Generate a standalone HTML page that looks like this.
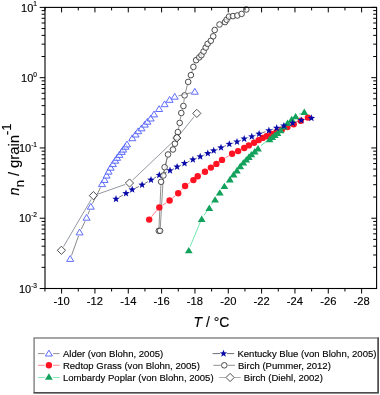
<!DOCTYPE html>
<html><head><meta charset="utf-8"><title>Ice nucleation chart</title>
<style>html,body{margin:0;padding:0;background:#fff}svg{display:block}</style></head>
<body>
<svg width="380" height="395" viewBox="0 0 380 395" font-family="'Liberation Sans', Arial, sans-serif" stroke-linejoin="miter">
<style>text{stroke:#000;stroke-width:0.14px;paint-order:stroke}</style>
<rect width="380" height="395" fill="#fff"/>
<path d="M71.5 255.5L78.5 236.0M81.3 229.2L85.1 221.1M88.0 214.3L89.6 210.3M92.5 203.5L100.5 187.5M129.5 141.7L130.0 141.1M178.4 95.9L191.3 92.7" stroke="#747474" stroke-width="0.85" fill="none"/>
<path d="M159.0 227.5L160.9 185.1M161.9 178.6L163.8 170.4M165.5 164.0L167.1 157.7M170.3 152.1L170.6 151.9M178.5 128.9L179.0 126.1M180.2 119.6L180.8 116.3M182.2 109.8L182.5 109.2M183.8 102.7L184.2 98.7M185.5 92.2L187.3 85.1M189.4 78.8L189.7 78.2M191.9 71.9L192.4 70.1M194.6 63.8L194.9 63.3M216.9 27.5L217.3 27.0" stroke="#747474" stroke-width="0.8" fill="none"/>
<path d="M160.3 227.5L163.2 178.8M164.1 172.3L167.3 157.7M169.8 151.7L173.1 146.5M175.7 140.5L177.0 135.3" stroke="#747474" stroke-width="0.8" fill="none"/>
<path d="M63.6 246.5L91.2 199.4M97.6 194.2L125.3 184.4M132.7 180.0L173.7 141.0M179.7 134.6L194.0 116.8" stroke="#80858f" stroke-width="0.85" fill="none"/>
<path d="M151.6 216.7L156.9 210.3M162.5 205.3L166.4 202.6M172.5 198.1L175.3 195.7M180.8 190.5L182.5 188.8M188.2 183.8L190.3 182.3M200.9 174.3L201.8 173.7M225.3 157.9L228.8 155.8" stroke="#ff6a78" stroke-width="0.85" fill="none"/>
<path d="M190.2 246.4L200.3 222.0M203.9 215.4L207.1 210.7M211.5 204.5L212.9 202.3M217.2 196.0L217.7 195.4M222.0 189.1L222.2 188.8M226.8 182.8L227.5 181.9M261.0 145.6L266.6 141.2M299.0 114.2L300.9 113.3" stroke="#5fe3a3" stroke-width="0.9" fill="none"/>
<path d="M119.1 197.2L122.9 195.2M135.4 188.1L138.9 186.5M145.2 183.1L147.9 181.7M154.1 178.1L156.2 176.9M162.6 173.7L166.7 171.9M173.2 168.8L173.9 168.5M180.4 165.3L181.2 164.8M187.8 161.9L189.6 161.1M196.2 158.3L196.9 158.0M203.5 155.2L204.5 154.8M217.0 149.3L217.7 149.1M224.3 146.3L226.0 145.5M232.7 143.1L233.6 142.8M240.3 140.4L240.9 140.2M247.7 137.8L248.3 137.6M255.2 135.4L255.7 135.1M262.5 132.7L265.5 131.7M272.3 129.4L273.3 129.1M280.1 126.9L280.5 126.9M287.3 124.7L289.2 124.2M296.0 122.0L297.9 121.4M304.8 119.6L307.9 118.9" stroke="#4a4a55" stroke-width="0.75" fill="none"/>
<g fill="#ff1222"><circle cx="149.2" cy="219.6" r="3.2"/><circle cx="159.3" cy="207.4" r="3.2"/><circle cx="169.6" cy="200.5" r="3.2"/><circle cx="178.2" cy="193.3" r="3.2"/><circle cx="185.1" cy="186" r="3.2"/><circle cx="193.4" cy="180.1" r="3.2"/><circle cx="197.7" cy="176.3" r="3.2"/><circle cx="205" cy="171.7" r="3.2"/><circle cx="210.9" cy="167.6" r="3.2"/><circle cx="216.4" cy="163.9" r="3.2"/><circle cx="222" cy="159.9" r="3.2"/><circle cx="232.1" cy="153.8" r="3.2"/><circle cx="238.1" cy="151.1" r="3.2"/><circle cx="244.2" cy="148" r="3.2"/><circle cx="248.8" cy="145.4" r="3.2"/><circle cx="254.1" cy="142.8" r="3.2"/><circle cx="258.7" cy="140.1" r="3.2"/><circle cx="262.6" cy="137.9" r="3.2"/><circle cx="266.6" cy="136.2" r="3.2"/><circle cx="271.5" cy="134" r="3.2"/><circle cx="276.5" cy="132" r="3.2"/><circle cx="281.8" cy="129.8" r="3.2"/><circle cx="287.4" cy="127.1" r="3.2"/><circle cx="293.7" cy="124.2" r="3.2"/><circle cx="300.8" cy="120.8" r="3.2"/><circle cx="307.9" cy="117.6" r="3.2"/></g>
<path d="M184.9 253.3L192.7 253.3L188.8 246.9ZM197.8 221.9L205.6 221.9L201.7 215.5ZM205.4 211.0L213.2 211.0L209.3 204.6ZM211.2 202.6L219.0 202.6L215.1 196.2ZM215.9 195.6L223.7 195.6L219.8 189.2ZM220.5 189.1L228.3 189.1L224.4 182.7ZM226.0 182.4L233.8 182.4L229.9 176.0ZM229.7 177.5L237.5 177.5L233.6 171.1ZM233.0 173.4L240.8 173.4L236.9 167.0ZM236.3 169.2L244.1 169.2L240.2 162.8ZM239.4 165.6L247.2 165.6L243.3 159.2ZM242.3 162.6L250.1 162.6L246.2 156.2ZM244.9 160.0L252.7 160.0L248.8 153.6ZM247.5 157.3L255.3 157.3L251.4 150.9ZM250.8 154.4L258.6 154.4L254.7 148.0ZM254.1 151.4L261.9 151.4L258.0 145.0ZM265.7 142.2L273.5 142.2L269.6 135.8ZM268.3 140.1L276.1 140.1L272.2 133.7ZM270.9 138.0L278.7 138.0L274.8 131.6ZM273.6 135.9L281.4 135.9L277.5 129.5ZM276.7 133.3L284.5 133.3L280.6 126.9ZM280.1 129.4L287.9 129.4L284.0 123.0ZM283.6 125.9L291.4 125.9L287.5 119.5ZM287.8 122.2L295.6 122.2L291.7 115.8ZM291.7 119.3L299.5 119.3L295.6 112.9ZM300.4 115.0L308.2 115.0L304.3 108.6Z" fill="#12a25c"/>
<path d="M116.00 195.10L116.96 197.67L119.71 197.79L117.56 199.51L118.29 202.16L116.00 200.64L113.71 202.16L114.44 199.51L112.29 197.79L115.04 197.67ZM126.00 189.50L126.96 192.07L129.71 192.19L127.56 193.91L128.29 196.56L126.00 195.04L123.71 196.56L124.44 193.91L122.29 192.19L125.04 192.07ZM132.20 185.80L133.16 188.37L135.91 188.49L133.76 190.21L134.49 192.86L132.20 191.34L129.91 192.86L130.64 190.21L128.49 188.49L131.24 188.37ZM142.10 181.00L143.06 183.57L145.81 183.69L143.66 185.41L144.39 188.06L142.10 186.54L139.81 188.06L140.54 185.41L138.39 183.69L141.14 183.57ZM151.00 176.00L151.96 178.57L154.71 178.69L152.56 180.41L153.29 183.06L151.00 181.54L148.71 183.06L149.44 180.41L147.29 178.69L150.04 178.57ZM159.30 171.20L160.26 173.77L163.01 173.89L160.86 175.61L161.59 178.26L159.30 176.74L157.01 178.26L157.74 175.61L155.59 173.89L158.34 173.77ZM170.00 166.60L170.96 169.17L173.71 169.29L171.56 171.01L172.29 173.66L170.00 172.14L167.71 173.66L168.44 171.01L166.29 169.29L169.04 169.17ZM177.10 162.90L178.06 165.47L180.81 165.59L178.66 167.31L179.39 169.96L177.10 168.44L174.81 169.96L175.54 167.31L173.39 165.59L176.14 165.47ZM184.50 159.40L185.46 161.97L188.21 162.09L186.06 163.81L186.79 166.46L184.50 164.94L182.21 166.46L182.94 163.81L180.79 162.09L183.54 161.97ZM192.90 155.80L193.86 158.37L196.61 158.49L194.46 160.21L195.19 162.86L192.90 161.34L190.61 162.86L191.34 160.21L189.19 158.49L191.94 158.37ZM200.20 152.70L201.16 155.27L203.91 155.39L201.76 157.11L202.49 159.76L200.20 158.24L197.91 159.76L198.64 157.11L196.49 155.39L199.24 155.27ZM207.80 149.50L208.76 152.07L211.51 152.19L209.36 153.91L210.09 156.56L207.80 155.04L205.51 156.56L206.24 153.91L204.09 152.19L206.84 152.07ZM213.70 146.80L214.66 149.37L217.41 149.49L215.26 151.21L215.99 153.86L213.70 152.34L211.41 153.86L212.14 151.21L209.99 149.49L212.74 149.37ZM221.00 143.80L221.96 146.37L224.71 146.49L222.56 148.21L223.29 150.86L221.00 149.34L218.71 150.86L219.44 148.21L217.29 146.49L220.04 146.37ZM229.30 140.20L230.26 142.77L233.01 142.89L230.86 144.61L231.59 147.26L229.30 145.74L227.01 147.26L227.74 144.61L225.59 142.89L228.34 142.77ZM237.00 137.90L237.96 140.47L240.71 140.59L238.56 142.31L239.29 144.96L237.00 143.44L234.71 144.96L235.44 142.31L233.29 140.59L236.04 140.47ZM244.20 134.90L245.16 137.47L247.91 137.59L245.76 139.31L246.49 141.96L244.20 140.44L241.91 141.96L242.64 139.31L240.49 137.59L243.24 137.47ZM251.80 132.70L252.76 135.27L255.51 135.39L253.36 137.11L254.09 139.76L251.80 138.24L249.51 139.76L250.24 137.11L248.09 135.39L250.84 135.27ZM259.10 130.00L260.06 132.57L262.81 132.69L260.66 134.41L261.39 137.06L259.10 135.54L256.81 137.06L257.54 134.41L255.39 132.69L258.14 132.57ZM268.90 126.60L269.86 129.17L272.61 129.29L270.46 131.01L271.19 133.66L268.90 132.14L266.61 133.66L267.34 131.01L265.19 129.29L267.94 129.17ZM276.70 124.10L277.66 126.67L280.41 126.79L278.26 128.51L278.99 131.16L276.70 129.64L274.41 131.16L275.14 128.51L272.99 126.79L275.74 126.67ZM283.90 121.90L284.86 124.47L287.61 124.59L285.46 126.31L286.19 128.96L283.90 127.44L281.61 128.96L282.34 126.31L280.19 124.59L282.94 124.47ZM292.60 119.20L293.56 121.77L296.31 121.89L294.16 123.61L294.89 126.26L292.60 124.74L290.31 126.26L291.04 123.61L288.89 121.89L291.64 121.77ZM301.30 116.40L302.26 118.97L305.01 119.09L302.86 120.81L303.59 123.46L301.30 121.94L299.01 123.46L299.74 120.81L297.59 119.09L300.34 118.97ZM311.40 114.30L312.36 116.87L315.11 116.99L312.96 118.71L313.69 121.36L311.40 119.84L309.11 121.36L309.84 118.71L307.69 116.99L310.44 116.87Z" fill="#0a0aa8"/>
<path d="M66.7 261.4L73.7 261.4L70.2 255.6Z" fill="#fff" fill-opacity="0.6" stroke="#4d5cfa" stroke-width="0.9"/>
<path d="M76.1 234.9L83.1 234.9L79.6 229.1Z" fill="#fff" fill-opacity="0.6" stroke="#4d5cfa" stroke-width="0.9"/>
<path d="M83.1 220.2L90.1 220.2L86.6 214.4Z" fill="#fff" fill-opacity="0.6" stroke="#4d5cfa" stroke-width="0.9"/>
<path d="M87.3 209.2L94.3 209.2L90.8 203.4Z" fill="#fff" fill-opacity="0.6" stroke="#4d5cfa" stroke-width="0.9"/>
<path d="M98.5 186.6L105.5 186.6L102.0 180.8Z" fill="#fff" fill-opacity="0.6" stroke="#4d5cfa" stroke-width="0.9"/>
<path d="M101.1 182.4L108.1 182.4L104.6 176.6Z" fill="#fff" fill-opacity="0.6" stroke="#4d5cfa" stroke-width="0.9"/>
<path d="M103.1 178.1L110.1 178.1L106.6 172.3Z" fill="#fff" fill-opacity="0.6" stroke="#4d5cfa" stroke-width="0.9"/>
<path d="M105.1 174.1L112.1 174.1L108.6 168.3Z" fill="#fff" fill-opacity="0.6" stroke="#4d5cfa" stroke-width="0.9"/>
<path d="M107.1 170.2L114.1 170.2L110.6 164.4Z" fill="#fff" fill-opacity="0.6" stroke="#4d5cfa" stroke-width="0.9"/>
<path d="M109.4 166.6L116.4 166.6L112.9 160.8Z" fill="#fff" fill-opacity="0.6" stroke="#4d5cfa" stroke-width="0.9"/>
<path d="M111.7 163.2L118.7 163.2L115.2 157.4Z" fill="#fff" fill-opacity="0.6" stroke="#4d5cfa" stroke-width="0.9"/>
<path d="M113.6 160.3L120.6 160.3L117.1 154.5Z" fill="#fff" fill-opacity="0.6" stroke="#4d5cfa" stroke-width="0.9"/>
<path d="M115.9 157.4L122.9 157.4L119.4 151.6Z" fill="#fff" fill-opacity="0.6" stroke="#4d5cfa" stroke-width="0.9"/>
<path d="M118.2 154.4L125.2 154.4L121.7 148.6Z" fill="#fff" fill-opacity="0.6" stroke="#4d5cfa" stroke-width="0.9"/>
<path d="M119.7 152.1L126.7 152.1L123.2 146.3Z" fill="#fff" fill-opacity="0.6" stroke="#4d5cfa" stroke-width="0.9"/>
<path d="M121.9 149.2L128.9 149.2L125.4 143.4Z" fill="#fff" fill-opacity="0.6" stroke="#4d5cfa" stroke-width="0.9"/>
<path d="M123.5 146.9L130.5 146.9L127.0 141.1Z" fill="#fff" fill-opacity="0.6" stroke="#4d5cfa" stroke-width="0.9"/>
<path d="M128.8 140.7L135.8 140.7L132.3 134.9Z" fill="#fff" fill-opacity="0.6" stroke="#4d5cfa" stroke-width="0.9"/>
<path d="M132.1 137.0L139.1 137.0L135.6 131.2Z" fill="#fff" fill-opacity="0.6" stroke="#4d5cfa" stroke-width="0.9"/>
<path d="M134.7 133.7L141.7 133.7L138.2 127.9Z" fill="#fff" fill-opacity="0.6" stroke="#4d5cfa" stroke-width="0.9"/>
<path d="M138.0 130.8L145.0 130.8L141.5 125.0Z" fill="#fff" fill-opacity="0.6" stroke="#4d5cfa" stroke-width="0.9"/>
<path d="M141.3 127.1L148.3 127.1L144.8 121.3Z" fill="#fff" fill-opacity="0.6" stroke="#4d5cfa" stroke-width="0.9"/>
<path d="M143.9 124.2L150.9 124.2L147.4 118.4Z" fill="#fff" fill-opacity="0.6" stroke="#4d5cfa" stroke-width="0.9"/>
<path d="M147.2 121.0L154.2 121.0L150.7 115.2Z" fill="#fff" fill-opacity="0.6" stroke="#4d5cfa" stroke-width="0.9"/>
<path d="M150.5 116.9L157.5 116.9L154.0 111.1Z" fill="#fff" fill-opacity="0.6" stroke="#4d5cfa" stroke-width="0.9"/>
<path d="M155.6 111.5L162.6 111.5L159.1 105.7Z" fill="#fff" fill-opacity="0.6" stroke="#4d5cfa" stroke-width="0.9"/>
<path d="M161.1 106.7L168.1 106.7L164.6 100.9Z" fill="#fff" fill-opacity="0.6" stroke="#4d5cfa" stroke-width="0.9"/>
<path d="M166.1 102.3L173.1 102.3L169.6 96.5Z" fill="#fff" fill-opacity="0.6" stroke="#4d5cfa" stroke-width="0.9"/>
<path d="M171.2 99.2L178.2 99.2L174.7 93.4Z" fill="#fff" fill-opacity="0.6" stroke="#4d5cfa" stroke-width="0.9"/>
<path d="M191.3 94.2L198.3 94.2L194.8 88.4Z" fill="#fff" fill-opacity="0.6" stroke="#4d5cfa" stroke-width="0.9"/>
<g fill="#fff" fill-opacity="0.7" stroke="#3a3a3a" stroke-width="0.9"><circle cx="158.8" cy="230.8" r="2.8"/><circle cx="160.1" cy="230.8" r="2.8"/><circle cx="161.1" cy="181.8" r="2.8"/><circle cx="163.4" cy="175.5" r="2.8"/><circle cx="164.6" cy="167.2" r="2.8"/><circle cx="168" cy="154.5" r="2.8"/><circle cx="172.9" cy="149.5" r="2.8"/><circle cx="174.9" cy="143.7" r="2.8"/><circle cx="176.8" cy="137.4" r="2.8"/><circle cx="177.8" cy="132.1" r="2.8"/><circle cx="179.7" cy="122.9" r="2.8"/><circle cx="181.3" cy="113" r="2.8"/><circle cx="183.4" cy="106" r="2.8"/><circle cx="184.6" cy="95.4" r="2.8"/><circle cx="188.2" cy="81.9" r="2.8"/><circle cx="190.9" cy="75.1" r="2.8"/><circle cx="193.4" cy="66.9" r="2.8"/><circle cx="196.1" cy="60.2" r="2.8"/><circle cx="199.2" cy="57.4" r="2.8"/><circle cx="201.4" cy="55.2" r="2.8"/><circle cx="203.6" cy="51.5" r="2.8"/><circle cx="205.7" cy="47.6" r="2.8"/><circle cx="207.6" cy="43.9" r="2.8"/><circle cx="210.8" cy="40.8" r="2.8"/><circle cx="213.2" cy="36.3" r="2.8"/><circle cx="214.7" cy="30" r="2.8"/><circle cx="219.5" cy="24.5" r="2.8"/><circle cx="225" cy="22.1" r="2.8"/><circle cx="226.6" cy="19.7" r="2.8"/><circle cx="229" cy="16.6" r="2.8"/><circle cx="232.9" cy="16.1" r="2.8"/><circle cx="237.3" cy="15.5" r="2.8"/><circle cx="241.6" cy="13.9" r="2.8"/><circle cx="246.3" cy="9.5" r="2.8"/></g>
<path d="M57.3 250.3L61.4 246.2L65.5 250.3L61.4 254.4Z" fill="#fff" fill-opacity="0.5" stroke="#3a3a3a" stroke-width="0.9"/>
<path d="M89.3 195.6L93.4 191.5L97.5 195.6L93.4 199.7Z" fill="#fff" fill-opacity="0.5" stroke="#3a3a3a" stroke-width="0.9"/>
<path d="M125.4 183.0L129.5 178.9L133.6 183.0L129.5 187.1Z" fill="#fff" fill-opacity="0.5" stroke="#3a3a3a" stroke-width="0.9"/>
<path d="M172.8 138.0L176.9 133.9L181.0 138.0L176.9 142.1Z" fill="#fff" fill-opacity="0.5" stroke="#3a3a3a" stroke-width="0.9"/>
<path d="M192.7 113.4L196.8 109.3L200.9 113.4L196.8 117.5Z" fill="#fff" fill-opacity="0.5" stroke="#3a3a3a" stroke-width="0.9"/>
<rect x="45.0" y="7.4" width="331.6" height="281.1" fill="none" stroke="#000" stroke-width="1.1"/>
<path d="M39.7 288.50H45.0M371.3 288.50H376.6M41.6 267.35H45.0M373.20000000000005 267.35H376.6M41.6 254.97H45.0M373.20000000000005 254.97H376.6M41.6 246.19H45.0M373.20000000000005 246.19H376.6M41.6 239.38H45.0M373.20000000000005 239.38H376.6M41.6 233.82H45.0M373.20000000000005 233.82H376.6M41.6 229.11H45.0M373.20000000000005 229.11H376.6M41.6 225.04H45.0M373.20000000000005 225.04H376.6M41.6 221.44H45.0M373.20000000000005 221.44H376.6M39.7 218.23H45.0M371.3 218.23H376.6M41.6 197.07H45.0M373.20000000000005 197.07H376.6M41.6 184.70H45.0M373.20000000000005 184.70H376.6M41.6 175.92H45.0M373.20000000000005 175.92H376.6M41.6 169.10H45.0M373.20000000000005 169.10H376.6M41.6 163.54H45.0M373.20000000000005 163.54H376.6M41.6 158.84H45.0M373.20000000000005 158.84H376.6M41.6 154.76H45.0M373.20000000000005 154.76H376.6M41.6 151.17H45.0M373.20000000000005 151.17H376.6M39.7 147.95H45.0M371.3 147.95H376.6M41.6 126.80H45.0M373.20000000000005 126.80H376.6M41.6 114.42H45.0M373.20000000000005 114.42H376.6M41.6 105.64H45.0M373.20000000000005 105.64H376.6M41.6 98.83H45.0M373.20000000000005 98.83H376.6M41.6 93.27H45.0M373.20000000000005 93.27H376.6M41.6 88.56H45.0M373.20000000000005 88.56H376.6M41.6 84.49H45.0M373.20000000000005 84.49H376.6M41.6 80.89H45.0M373.20000000000005 80.89H376.6M39.7 77.68H45.0M371.3 77.68H376.6M41.6 56.52H45.0M373.20000000000005 56.52H376.6M41.6 44.15H45.0M373.20000000000005 44.15H376.6M41.6 35.37H45.0M373.20000000000005 35.37H376.6M41.6 28.55H45.0M373.20000000000005 28.55H376.6M41.6 22.99H45.0M373.20000000000005 22.99H376.6M41.6 18.29H45.0M373.20000000000005 18.29H376.6M41.6 14.21H45.0M373.20000000000005 14.21H376.6M41.6 10.62H45.0M373.20000000000005 10.62H376.6M39.7 7.40H45.0M371.3 7.40H376.6M44.93 288.5V291.5M44.93 7.4V10.4M61.60 288.5V293.5M61.60 7.4V12.4M78.27 288.5V291.5M78.27 7.4V10.4M94.93 288.5V293.5M94.93 7.4V12.4M111.60 288.5V291.5M111.60 7.4V10.4M128.27 288.5V293.5M128.27 7.4V12.4M144.94 288.5V291.5M144.94 7.4V10.4M161.60 288.5V293.5M161.60 7.4V12.4M178.27 288.5V291.5M178.27 7.4V10.4M194.94 288.5V293.5M194.94 7.4V12.4M211.60 288.5V291.5M211.60 7.4V10.4M228.27 288.5V293.5M228.27 7.4V12.4M244.94 288.5V291.5M244.94 7.4V10.4M261.60 288.5V293.5M261.60 7.4V12.4M278.27 288.5V291.5M278.27 7.4V10.4M294.94 288.5V293.5M294.94 7.4V12.4M311.61 288.5V291.5M311.61 7.4V10.4M328.27 288.5V293.5M328.27 7.4V12.4M344.94 288.5V291.5M344.94 7.4V10.4M361.61 288.5V293.5M361.61 7.4V12.4" stroke="#000" stroke-width="1" fill="none"/>
<text x="61.6" y="305.0" font-size="11.2" text-anchor="middle">-10</text>
<text x="94.9" y="305.0" font-size="11.2" text-anchor="middle">-12</text>
<text x="128.3" y="305.0" font-size="11.2" text-anchor="middle">-14</text>
<text x="161.6" y="305.0" font-size="11.2" text-anchor="middle">-16</text>
<text x="194.9" y="305.0" font-size="11.2" text-anchor="middle">-18</text>
<text x="228.3" y="305.0" font-size="11.2" text-anchor="middle">-20</text>
<text x="261.6" y="305.0" font-size="11.2" text-anchor="middle">-22</text>
<text x="294.9" y="305.0" font-size="11.2" text-anchor="middle">-24</text>
<text x="328.3" y="305.0" font-size="11.2" text-anchor="middle">-26</text>
<text x="361.6" y="305.0" font-size="11.2" text-anchor="middle">-28</text>
<text x="37.0" y="292.6" font-size="11" text-anchor="end">10<tspan font-size="6.6" dy="-5.1">-3</tspan></text>
<text x="37.0" y="222.3" font-size="11" text-anchor="end">10<tspan font-size="6.6" dy="-5.1">-2</tspan></text>
<text x="37.0" y="152.1" font-size="11" text-anchor="end">10<tspan font-size="6.6" dy="-5.1">-1</tspan></text>
<text x="37.0" y="81.8" font-size="11" text-anchor="end">10<tspan font-size="6.6" dy="-5.1">0</tspan></text>
<text x="37.0" y="11.5" font-size="11" text-anchor="end">10<tspan font-size="6.6" dy="-5.1">1</tspan></text>
<text x="211.5" y="326.9" font-size="14" text-anchor="middle"><tspan font-style="italic">T</tspan> / °C</text>
<text transform="translate(18.9,195.5) rotate(-90)" font-size="14.5" font-style="italic">n</text>
<text transform="translate(24.0,187.2) rotate(-90)" font-size="13" font-style="normal">n</text>
<text transform="translate(18.9,175.9) rotate(-90)" font-size="14.5" font-style="normal">/</text>
<text transform="translate(18.9,168.0) rotate(-90)" font-size="14.9" font-style="normal">grain</text>
<text transform="translate(10.6,135.1) rotate(-90)" font-size="13" font-style="normal">-1</text>
<rect x="34.1" y="338.0" width="344.0" height="54.7" fill="#fff" stroke="#808080" stroke-width="1.4"/>
<path d="M378.2 337.4V392.8H33.6" fill="none" stroke="#4c4c4c" stroke-width="1.5"/>
<path d="M38.0 353.6H44.699999999999996M53.1 353.6H59.6" stroke="#747474" stroke-width="0.8"/><path d="M45.4 356.0L52.4 356.0L48.9 350.2Z" fill="none" stroke="#4d5cfa" stroke-width="0.9"/><text x="62.9" y="357.0" font-size="9.55">Alder (von Blohn, 2005)</text>
<path d="M38.0 365.3H44.699999999999996M53.1 365.3H59.6" stroke="#ff6a78" stroke-width="0.8"/><circle cx="48.9" cy="365.3" r="3.2" fill="#ff1222"/><text x="62.9" y="368.7" font-size="9.55">Redtop Grass (von Blohn, 2005)</text>
<path d="M38.0 377.5H44.699999999999996M53.1 377.5H59.6" stroke="#5fe3a3" stroke-width="0.8"/><path d="M45.0 379.7L52.8 379.7L48.9 373.3Z" fill="#12a25c"/><text x="62.9" y="380.9" font-size="9.55">Lombardy Poplar (von Blohn, 2005)</text>
<path d="M212.6 353.6H220.1M226.9 353.6H234.2" stroke="#4a4a55" stroke-width="0.8"/><path d="M223.50 349.70L224.46 352.27L227.21 352.39L225.06 354.11L225.79 356.76L223.50 355.24L221.21 356.76L221.94 354.11L219.79 352.39L222.54 352.27Z" fill="#0a0aa8"/><text x="237.4" y="357.0" font-size="9.55">Kentucky Blue (von Blohn, 2005)</text>
<path d="M213.4 365.3H220.70000000000002M227.9 365.3H235.0" stroke="#747474" stroke-width="0.8"/><circle cx="224.3" cy="365.3" r="2.8" fill="none" stroke="#3a3a3a" stroke-width="0.9"/><text x="238.0" y="368.7" font-size="9.55">Birch (Pummer, 2012)</text>
<path d="M219.2 377.5H225.79999999999998M234.4 377.5H240.79999999999998" stroke="#999" stroke-width="0.8"/><path d="M226.0 377.5L230.1 373.4L234.2 377.5L230.1 381.6Z" fill="#fff" stroke="#3a3a3a" stroke-width="0.9"/><text x="243.8" y="380.9" font-size="9.55">Birch (Diehl, 2002)</text>
</svg>
</body></html>
